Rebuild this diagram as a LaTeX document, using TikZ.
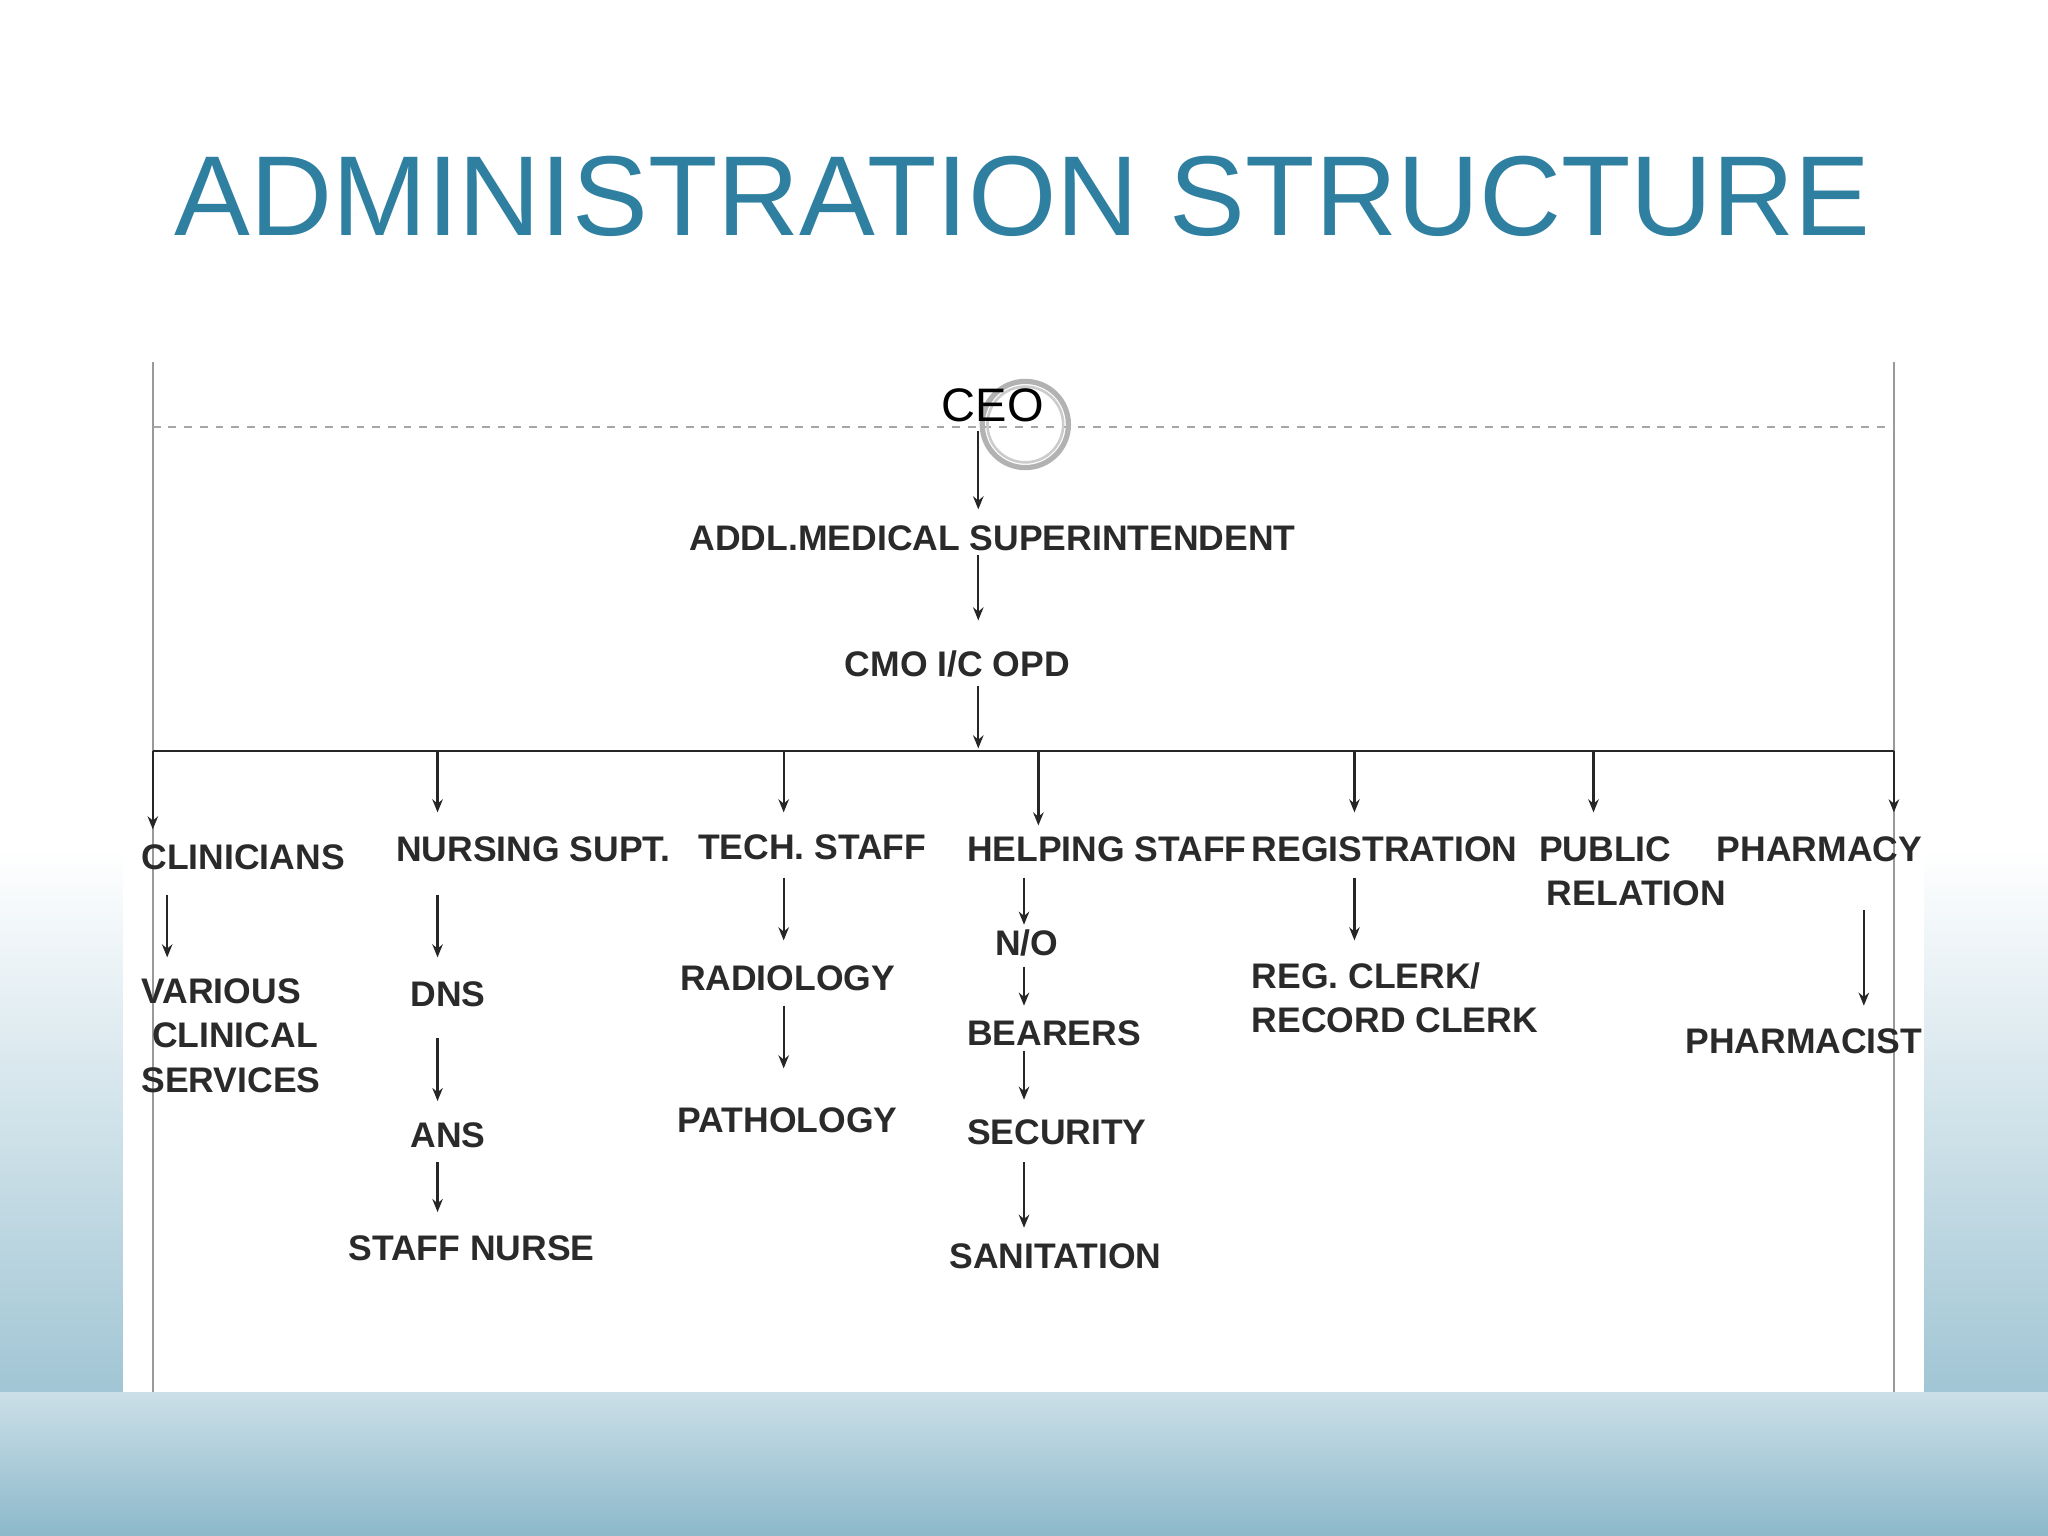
\documentclass[tikz,border=0pt]{standalone}
\usepackage{fontspec}
\setmainfont{Liberation Sans}
\usetikzlibrary{arrows.meta}
\definecolor{ttl}{HTML}{2E7FA0}
\definecolor{txt}{HTML}{2A2A2A}
\begin{document}
\begin{tikzpicture}[x=0.5pt,y=-0.5pt,
 lab/.style={font=\bfseries\fontsize{13.6}{16}\selectfont,text=txt,inner sep=0pt},
 labl/.style={lab,anchor=west},
 arr/.style={-{Stealth[length=5pt,width=4pt]},line width=0.9pt,black!85},
 ln/.style={line width=1pt,black!85}]
\useasboundingbox (0,0) rectangle (1568,1176);
\fill[white] (0,0) rectangle (1568,650);
\shade[top color=white,bottom color=ttl!45] (0,650) rectangle (1568,1066);
\shade[top color=ttl!25,bottom color=ttl!55] (0,1066) rectangle (1568,1176);
\fill[white] (94,270) rectangle (1473,1066);
\node[font=\fontsize{43.5}{50}\selectfont,text=ttl,inner sep=0pt] (title) at (783,150) {ADMINISTRATION STRUCTURE};
\draw[black!40,line width=0.8pt] (117,277) -- (117,1066) (1450,277) -- (1450,1066);
\draw[black!35,dashed,line width=0.6pt] (117,327) -- (1450,327);
\draw[black!30,line width=2pt] (785,325) circle (33);
\draw[white!80!black,line width=1pt] (785,325) circle (29);
\node[font=\fontsize{18}{20}\selectfont,inner sep=0pt] (ceo) at (760,310) {CEO};
\node[lab] (ams) at (760,412) {ADDL.MEDICAL SUPERINTENDENT};
\node[lab] (cmo) at (733,508) {CMO I/C OPD};
\draw[arr] (749,330) -- (749,390);
\draw[arr] (749,425) -- (749,475);
\draw[arr] (749,525) -- (749,573);
\draw[ln] (117,575) -- (1450,575);
\foreach \x/\y in {117/635,335/622,600/622,795/632,1037/622,1220/622,1450/622}
  \draw[arr] (\x,575) -- (\x,\y);
% clinicians
\node[labl] (cli) at (108,656) {CLINICIANS};
\draw[arr] (128,685) -- (128,733);
\node[labl] (var1) at (108,759) {VARIOUS};
\node[labl] (var2) at (116,793) {CLINICAL};
\node[labl] (var3) at (108,827) {SERVICES};
% nursing
\node[labl] (nur) at (303,650) {NURSING SUPT.};
\draw[arr] (335,685) -- (335,733);
\node[lab] (dns) at (343,761) {DNS};
\draw[arr] (335,795) -- (335,843);
\node[lab] (ans) at (343,869) {ANS};
\draw[arr] (335,890) -- (335,928);
\node[lab] (sn) at (361,956) {STAFF NURSE};
% tech
\node[labl] (tech) at (534,649) {TECH. STAFF};
\draw[arr] (600,672) -- (600,720);
\node[lab] (rad) at (603,749) {RADIOLOGY};
\draw[arr] (600,770) -- (600,818);
\node[lab] (path) at (603,858) {PATHOLOGY};
% helping
\node[labl] (help) at (740,650) {HELPING STAFF};
\draw[arr] (784,672) -- (784,708);
\node[lab] (no) at (786,722) {N/O};
\draw[arr] (784,740) -- (784,770);
\node[labl] (bea) at (740,791) {BEARERS};
\draw[arr] (784,805) -- (784,842);
\node[labl] (sec) at (740,867) {SECURITY};
\draw[arr] (784,890) -- (784,940);
\node[lab] (san) at (808,962) {SANITATION};
% registration
\node[labl] (reg) at (958,650) {REGISTRATION};
\draw[arr] (1037,672) -- (1037,720);
\node[labl] (rc1) at (958,747) {REG. CLERK/};
\node[labl] (rc2) at (958,781) {RECORD CLERK};
% public
\node[labl] (pub) at (1178,650) {PUBLIC};
\node[labl] (rel) at (1184,684) {RELATION};
% pharmacy
\node[labl] (pha) at (1314,650) {PHARMACY};
\draw[arr] (1427,697) -- (1427,770);
\node[lab] (phm) at (1381,797) {PHARMACIST};
\end{tikzpicture}
\end{document}
